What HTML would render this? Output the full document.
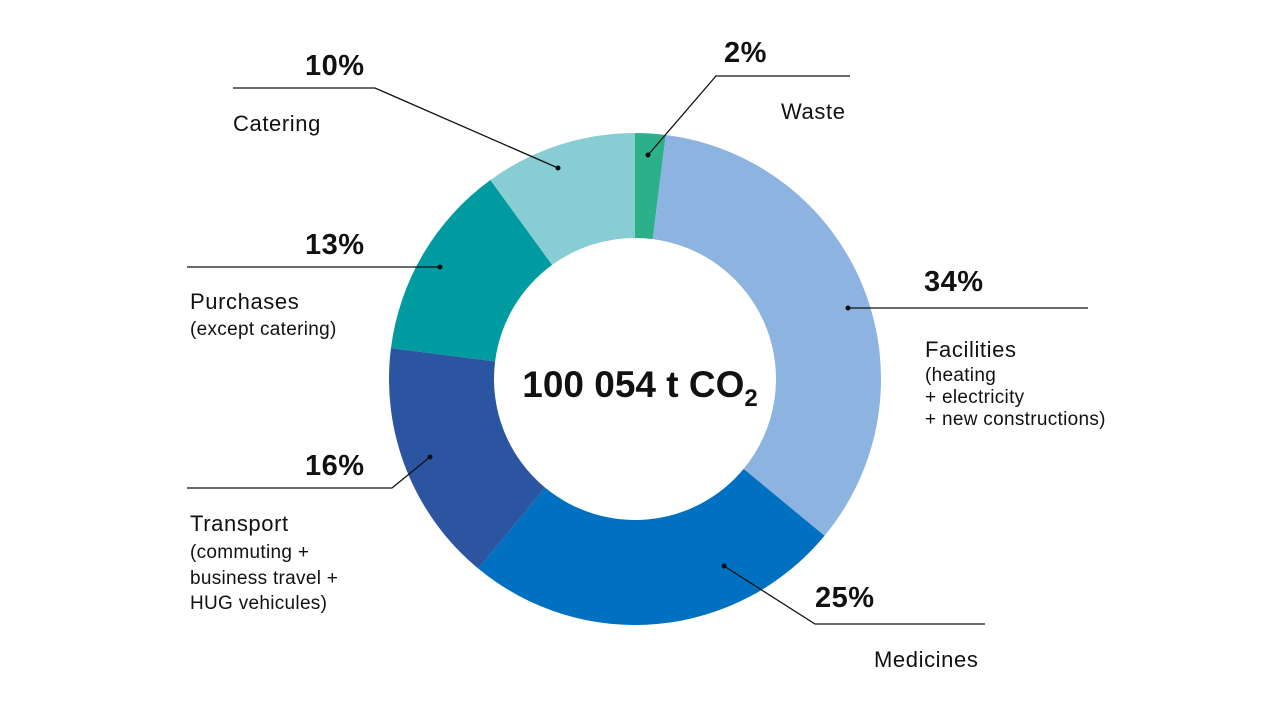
<!DOCTYPE html>
<html><head><meta charset="utf-8"><style>
html,body{margin:0;padding:0;background:#fff;width:1280px;height:720px;overflow:hidden}
svg{display:block;font-family:"Liberation Sans",sans-serif}
.pct{font-weight:bold;font-size:29px;fill:#111;letter-spacing:0.5px}
.lbl{font-size:22px;fill:#111;letter-spacing:0.6px}
.sub{font-size:19px;fill:#111;letter-spacing:0.3px}
</style></head><body>
<svg id="chart" width="1280" height="720">
<g id="slices"></g>
<g id="leaders" stroke="#111" stroke-width="1.3" fill="none"></g>
<text x="640" y="397" text-anchor="middle" font-weight="bold" font-size="37" fill="#111">100 054 t CO<tspan font-size="24" dy="9">2</tspan></text>
<g id="labels"></g>
</svg>
<script>
const categories=["Waste","Facilities","Medicines","Transport","Purchases","Catering"];
const values=[2,34,25,16,13,10];
const pctLabels=["2%","34%","25%","16%","13%","10%"];
const colors=["#2bb08a","#8db3e0","#0070c0","#2b55a0","#009ba0","#88cdd4"];
const cx=635,cy=379,R=246,r=141;
const NS="http://www.w3.org/2000/svg";
const total=values.reduce((a,b)=>a+b,0);
function pt(frac,rad){const a=frac*2*Math.PI;return [cx+rad*Math.sin(a),cy-rad*Math.cos(a)];}
let acc=0;const g=document.getElementById('slices');
values.forEach((v,i)=>{
  const f0=acc/total,f1=(acc+v)/total;acc+=v;
  const [x0,y0]=pt(f0,R),[x1,y1]=pt(f1,R),[x2,y2]=pt(f1,r),[x3,y3]=pt(f0,r);
  const lg=(f1-f0)>0.5?1:0;
  const p=document.createElementNS(NS,'path');
  p.setAttribute('d',`M${x0},${y0}A${R},${R} 0 ${lg} 1 ${x1},${y1}L${x2},${y2}A${r},${r} 0 ${lg} 0 ${x3},${y3}Z`);
  p.setAttribute('fill',colors[i]);
  
  
  g.appendChild(p);
});
const leaders=[
 "M648,155L716,76L850,76",
 "M848,308L1088,308",
 "M724,566L815,624L985,624",
 "M430,457L392,488L187,488",
 "M440,267L187,267",
 "M558,168L375,88L233,88"];
const lg2=document.getElementById('leaders');
leaders.forEach((d,i)=>{
  const p=document.createElementNS(NS,'path');p.setAttribute('d',d);
  
  
  lg2.appendChild(p);
  const m=d.match(/M([\d.]+),([\d.]+)/);
  const c=document.createElementNS(NS,'circle');c.setAttribute('cx',m[1]);c.setAttribute('cy',m[2]);c.setAttribute('r',2.5);c.setAttribute('fill','#111');c.setAttribute('stroke','none');
  
  
  lg2.appendChild(c);
});
const pctPos=[[724,62],[924,291],[815,607],[305,475],[305,254],[305,75]];
const textLines=[
 [[781,119,"lbl","Waste"]],
 [[925,357,"lbl","Facilities"],[925,381,"sub","(heating"],[925,403,"sub","+ electricity"],[925,425,"sub","+ new constructions)"]],
 [[874,667,"lbl","Medicines"]],
 [[190,531,"lbl","Transport"],[190,558,"sub","(commuting +"],[190,584,"sub","business travel +"],[190,609,"sub","HUG vehicules)"]],
 [[190,309,"lbl","Purchases"],[190,335,"sub","(except catering)"]],
 [[233,131,"lbl","Catering"]]];
const lab=document.getElementById('labels');
pctLabels.forEach((t,i)=>{
  const e=document.createElementNS(NS,'text');e.setAttribute('x',pctPos[i][0]);e.setAttribute('y',pctPos[i][1]);e.setAttribute('class','pct');e.textContent=t;
  
  
  lab.appendChild(e);
  textLines[i].forEach(([x,y,c,s])=>{
    const e2=document.createElementNS(NS,'text');e2.setAttribute('x',x);e2.setAttribute('y',y);e2.setAttribute('class',c);e2.textContent=s;
    
    
    lab.appendChild(e2);
  });
});
</script>
</body></html>
